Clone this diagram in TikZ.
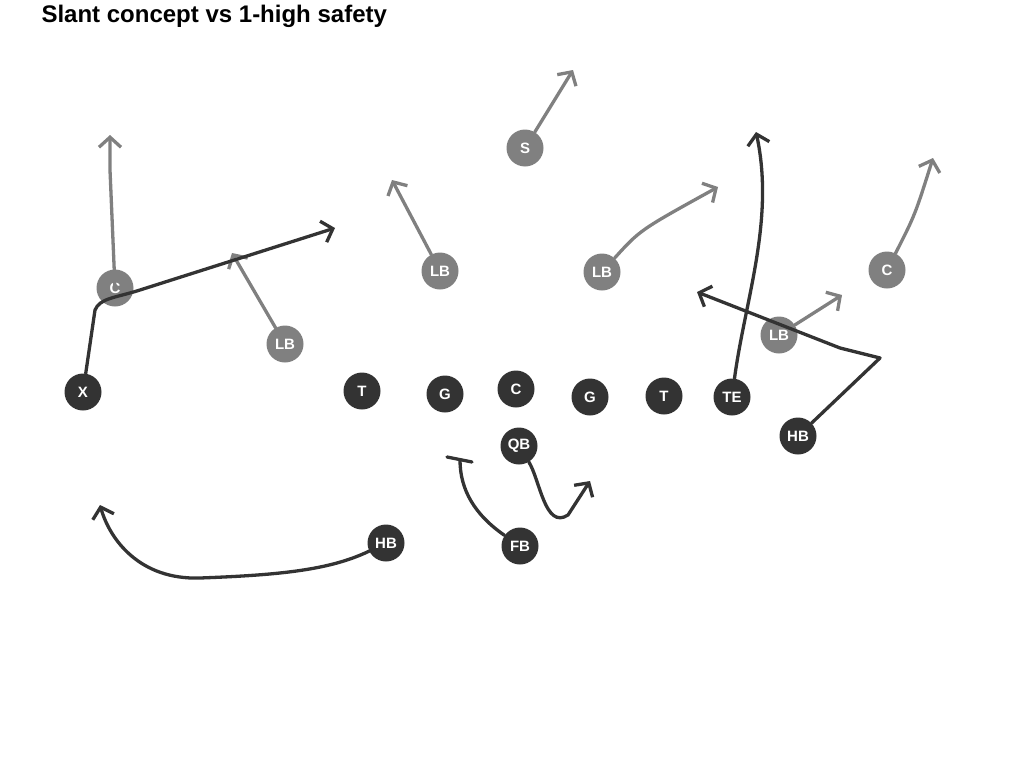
\documentclass[tikz,border=0pt]{standalone}
\usepackage{fontspec}
\setmainfont{Liberation Sans}
\usetikzlibrary{arrows.meta}
\definecolor{off}{HTML}{333333}
\definecolor{dfn}{HTML}{808080}
\begin{document}
\begin{tikzpicture}[x=1pt,y=-1pt,
 pl/.style={circle,minimum size=37pt,inner sep=0pt,text=white,font=\bfseries\fontsize{15}{15}\selectfont},
 o/.style={pl,fill=off},
 d/.style={pl,fill=dfn},
 ro/.style={draw=off,line width=3.3pt,line cap=round,line join=round,-{Straight Barb[length=10pt,width=22pt]}},
 rd/.style={draw=dfn,line width=3.3pt,line cap=round,line join=round,-{Straight Barb[length=10pt,width=22pt]}}]
\useasboundingbox (0,0) rectangle (1024,768);
\node[anchor=west,font=\bfseries\fontsize{24}{24}\selectfont] (title) at (38,16) {Slant concept vs 1-high safety};
\coordinate (a1) at (110,135); \coordinate (a2) at (232,253); \coordinate (a3) at (392,180);
\coordinate (a4) at (573,70); \coordinate (a5) at (718,187); \coordinate (a6) at (842,295); \coordinate (a7) at (933,158);
\node[d] (dc1) at (115,288) {C};
\node[d] (dl1) at (285,344) {LB};
\node[d] (dl2) at (440,271) {LB};
\node[d] (ds) at (525,148) {S};
\node[d] (dl3) at (602,272) {LB};
\node[d] (dl4) at (779,335) {LB};
\node[d] (dc2) at (887,270) {C};
\draw[rd] (dc1.center) -- (110,170) -- (a1);
\draw[rd] (dl1) -- (a2);
\draw[rd] (dl2) -- (a3);
\draw[rd] (ds) -- (a4);
\draw[rd] (dl3) .. controls (640,230) .. (a5);
\draw[rd] (dl4) -- (a6);
\draw[rd] (dc2) .. controls (915,215) .. (a7);
\node[o] (x) at (83,392) {X};
\node[o] (t1) at (362,391) {T};
\node[o] (g1) at (445,394) {G};
\node[o] (c) at (516,389) {C};
\node[o] (g2) at (590,397) {G};
\node[o] (t2) at (664,396) {T};
\node[o] (te) at (732,397) {TE};
\node[o] (hb1) at (798,436) {HB};
\node[o] (qb) at (519,446) {QB};
\node[o] (fb) at (520,546) {FB};
\node[o] (hb2) at (386,543) {HB};
\coordinate (b1) at (335,228); \coordinate (b2) at (756,132); \coordinate (b3) at (697,292);
\coordinate (b4) at (590,481); \coordinate (b5) at (100,505); \coordinate (bk) at (460,460);
\draw[ro] (x) -- (95,310) .. controls (100,298) and (115,298) .. (140,290) -- (b1);
\draw[ro] (te) .. controls (745,300) and (775,220) .. (b2);
\draw[ro] (hb1) -- (880,358) -- (840,348) -- (b3);
\draw[ro] (qb) .. controls (540,480) and (545,530) .. (568,515) -- (b4);
\draw[draw=off,line width=3.3pt,line cap=round] (fb) .. controls (475,515) and (460,490) .. (bk);
\draw[draw=off,line width=3.3pt,line cap=round] (447,457) -- (472,462);
\draw[ro] (hb2) .. controls (330,570) and (280,575) .. (200,578) .. controls (140,580) and (110,540) .. (b5);
\end{tikzpicture}
\end{document}
